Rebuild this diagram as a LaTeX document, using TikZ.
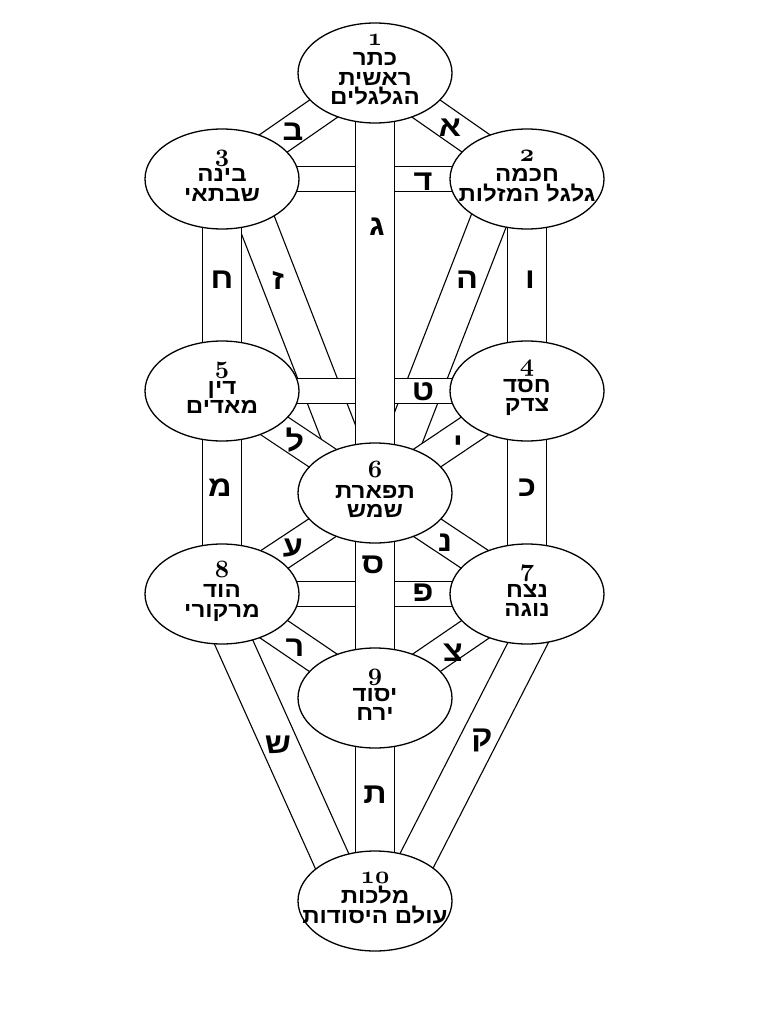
\documentclass[tikz,border=0pt]{standalone}
\usepackage{fontspec}
\usetikzlibrary{shapes.geometric,calc}
\newfontfamily\heb[Script=Hebrew,FakeStretch=1.12]{Liberation Sans}
\TeXXeTstate=1
\newcommand\nm[1]{{\fontsize{23}{23}\usefont{OML}{cmm}{b}{it}#1}}
\newcommand\hb[1]{\beginR #1\endR}
\pgfdeclarelayer{paper}
\pgfdeclarelayer{bg}
\pgfsetlayers{paper,bg,main}
\tikzset{
  sefira/.style={draw, ellipse, fill=white, line width=1.3pt, minimum width=154pt, minimum height=100pt, inner sep=0pt},
  sefname/.style={align=center, font=\heb\bfseries\fontsize{21.5}{19.5}\selectfont, inner sep=0pt, yshift=3pt},
  pathlbl/.style={font=\heb\bfseries\fontsize{29}{29}\selectfont, inner sep=0pt},
  bandline/.style={draw, fill=white, line width=1.1pt, line join=miter}
}
\newcommand\sefband[2]{%
 \path[bandline] let \p1=(#1.center), \p2=(#2.center),
   \n1={veclen((\x2-\x1)/1.54,\y2-\y1)},
   \n2={-(\y2-\y1)/\n1*19.25},
   \n3={(\x2-\x1)/1.54/\n1*12.5}
 in (\x1+\n2,\y1+\n3) -- (\x2+\n2,\y2+\n3) -- (\x2-\n2,\y2-\n3) -- (\x1-\n2,\y1-\n3) -- cycle;}
\begin{document}
\begin{tikzpicture}[x=1pt,y=-1pt]
\useasboundingbox (0,0) rectangle (768,1024);
\begin{pgfonlayer}{paper}
\fill[white] (0,0) rectangle (768,1024);
\end{pgfonlayer}
% sefirot
\node[sefira] (k)  at (375,73)  {};
\node[sefira] (ch) at (527,179) {};
\node[sefira] (bi) at (222,179) {};
\node[sefira] (he) at (527,391) {};
\node[sefira] (ge) at (222,391) {};
\node[sefira] (ti) at (375,493) {};
\node[sefira] (ne) at (527,594) {};
\node[sefira] (ho) at (222,594) {};
\node[sefira] (ye) at (375,698) {};
\node[sefira] (ma) at (375,901) {};
% off-centre band ends
\coordinate (z1) at (240,179); \coordinate (z2) at (362,493);
\coordinate (h1) at (505,179); \coordinate (h2) at (383,493);
\coordinate (s1) at (212,594); \coordinate (s2) at (350,901);
\coordinate (q1) at (553,594); \coordinate (q2) at (396,901);
\begin{pgfonlayer}{bg}
 \sefband{z1}{z2}
 \sefband{h1}{h2}
 \sefband{s1}{s2}
 \sefband{q1}{q2}
 \sefband{bi}{k}
 \sefband{ch}{k}
 \sefband{ge}{ti}
 \sefband{he}{ti}
 \sefband{ho}{ti}
 \sefband{ne}{ti}
 \sefband{ho}{ye}
 \sefband{ne}{ye}
 \sefband{bi}{ch}
 \sefband{ge}{he}
 \sefband{ho}{ne}
 \sefband{bi}{ge}
 \sefband{ch}{he}
 \sefband{ge}{ho}
 \sefband{he}{ne}
 \sefband{k}{ti}
 \sefband{ti}{ye}
 \sefband{ye}{ma}
\end{pgfonlayer}
% sefirot texts
\node[sefname] (t1) at (k)  {\nm{1}\\[1pt]\hb{כתר}\\\hb{ראשית}\\\hb{הגלגלים}};
\node[sefname] (t2) at (ch) {\nm{2}\\[1pt]\hb{חכמה}\\\hb{גלגל המזלות}};
\node[sefname] (t3) at (bi) {\nm{3}\\[1pt]\hb{בינה}\\\hb{שבתאי}};
\node[sefname] (t4) at (he) {\nm{4}\\[1pt]\hb{חסד}\\\hb{צדק}};
\node[sefname] (t5) at (ge) {\nm{5}\\[1pt]\hb{דין}\\\hb{מאדים}};
\node[sefname] (t6) at (ti) {\nm{6}\\[1pt]\hb{תפארת}\\\hb{שמש}};
\node[sefname] (t7) at (ne) {\nm{7}\\[1pt]\hb{נצח}\\\hb{נוגה}};
\node[sefname] (t8) at (ho) {\nm{8}\\[1pt]\hb{הוד}\\\hb{מרקורי}};
\node[sefname] (t9) at (ye) {\nm{9}\\[1pt]\hb{יסוד}\\\hb{ירח}};
\node[sefname] (t10) at (ma) {\nm{10}\\[1pt]\hb{מלכות}\\\hb{עולם היסודות}};
% path letters
\node[pathlbl] (p1)  at (450,128) {א};
\node[pathlbl] (p2)  at (293,132) {ב};
\node[pathlbl] (p3)  at (377,227) {ג};
\node[pathlbl] (p4)  at (423,182) {ד};
\node[pathlbl] (p5)  at (467,280) {ה};
\node[pathlbl] (p6)  at (530,280) {ו};
\node[pathlbl] (p7)  at (278,280) {ז};
\node[pathlbl] (p8)  at (222,280) {ח};
\node[pathlbl] (p9)  at (423,392) {ט};
\node[pathlbl] (p10) at (458,445) {י};
\node[pathlbl] (p11) at (527,488) {כ};
\node[pathlbl] (p12) at (295,440) {ל};
\node[pathlbl] (p13) at (220,488) {מ};
\node[pathlbl] (p14) at (445,543) {נ};
\node[pathlbl] (p15) at (373,565) {ס};
\node[pathlbl] (p16) at (293,548) {ע};
\node[pathlbl] (p17) at (423,593) {פ};
\node[pathlbl] (p18) at (453,653) {צ};
\node[pathlbl] (p19) at (482,740) {ק};
\node[pathlbl] (p20) at (295,648) {ר};
\node[pathlbl] (p21) at (278,745) {ש};
\node[pathlbl] (p22) at (375,795) {ת};
\end{tikzpicture}
\end{document}
